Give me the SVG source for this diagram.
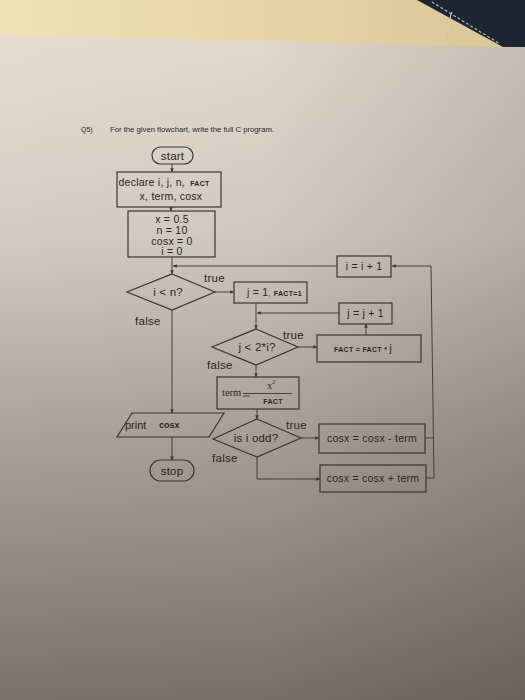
<svg xmlns="http://www.w3.org/2000/svg" width="525" height="700" viewBox="0 0 525 700">
<defs>
<linearGradient id="desk" x1="0" y1="0" x2="1" y2="0">
<stop offset="0" stop-color="#f1e2b2"/><stop offset="0.6" stop-color="#e6d2a2"/><stop offset="1" stop-color="#d9c496"/>
</linearGradient>
<linearGradient id="paper" x1="0" y1="0" x2="0" y2="1">
<stop offset="0" stop-color="#e6ddd1"/><stop offset="0.3" stop-color="#d4ccc3"/><stop offset="0.6" stop-color="#aaa198"/><stop offset="1" stop-color="#7b716b"/>
</linearGradient>
<linearGradient id="shade" x1="0" y1="0" x2="1" y2="0">
<stop offset="0" stop-color="#000" stop-opacity="0"/><stop offset="0.5" stop-color="#000" stop-opacity="0.02"/><stop offset="1" stop-color="#000" stop-opacity="0.14"/>
</linearGradient>
<marker id="ah" viewBox="0 0 8 8" refX="7.5" refY="4" markerWidth="4.5" markerHeight="4.5" orient="auto">
<path d="M0,0.5 L8,4 L0,7.5 Z" fill="#3c3834"/>
</marker>
<style>
.s{fill:none;stroke:#3a3532;stroke-width:1.2}
.c{fill:none;stroke:#3a3532;stroke-width:0.9}
.t{font-family:"Liberation Sans",Arial,sans-serif;fill:#2a2623}
.m{font-size:10.5px;letter-spacing:0.25px}
.d{font-size:11.5px;letter-spacing:0.2px}
.l{font-size:11.5px;letter-spacing:0.3px}
.k{font-size:7px;font-weight:bold;letter-spacing:0.3px}
</style>
</defs>
<!-- photo background -->
<rect x="0" y="0" width="525" height="700" fill="url(#desk)"/>
<polygon points="417,0 525,0 525,48 503,47" fill="#1e2530"/>
<line x1="432" y1="2" x2="500" y2="44" stroke="#b8b8b8" stroke-width="1.2" stroke-dasharray="3,2"/>
<path d="M452,12 C446,22 456,26 449,32 C444,38 448,44 451,46" fill="none" stroke="#cfc4ae" stroke-width="1.3"/>
<polygon points="0,34 483,47 525,47 525,700 0,700" fill="url(#paper)"/>
<polygon points="0,34 483,47 525,47 525,700 0,700" fill="url(#shade)"/>

<!-- title -->
<g id="title">
<text class="t" x="81" y="132" font-size="7">Q5)</text>
<text class="t" x="110" y="132" font-size="7" textLength="164" lengthAdjust="spacingAndGlyphs">For the given flowchart, write the full C program.</text>
</g>

<!-- connectors -->
<g id="connectors">
<line class="c" x1="172" y1="164" x2="172" y2="172" marker-end="url(#ah)"/>
<line class="c" x1="171" y1="207" x2="171" y2="211" marker-end="url(#ah)"/>
<line class="c" x1="172" y1="257" x2="172" y2="274" marker-end="url(#ah)"/>
<line class="c" x1="337" y1="266" x2="173" y2="266" marker-end="url(#ah)"/>
<line class="c" x1="215" y1="292" x2="234" y2="292" marker-end="url(#ah)"/>
<line class="c" x1="172" y1="310" x2="172" y2="413" marker-end="url(#ah)"/>
<line class="c" x1="256" y1="303" x2="256" y2="329" marker-end="url(#ah)"/>
<line class="c" x1="339" y1="313" x2="257" y2="313" marker-end="url(#ah)"/>
<line class="c" x1="298" y1="347" x2="317" y2="347" marker-end="url(#ah)"/>
<line class="c" x1="366" y1="335" x2="366" y2="324" marker-end="url(#ah)"/>
<line class="c" x1="256" y1="365" x2="256" y2="377" marker-end="url(#ah)"/>
<line class="c" x1="257" y1="409" x2="257" y2="419" marker-end="url(#ah)"/>
<line class="c" x1="301" y1="438" x2="319" y2="438" marker-end="url(#ah)"/>
<polyline class="c" points="257,457 257,479 320,479" marker-end="url(#ah)"/>
<line class="c" x1="425" y1="438" x2="433" y2="438"/>
<polyline class="c" points="426,478 434,478 431,266 392,266" marker-end="url(#ah)"/>
<line class="c" x1="172" y1="437" x2="172" y2="460" marker-end="url(#ah)"/>
<text class="t l" x="204" y="282">true</text>
<text class="t l" x="135" y="325">false</text>
<text class="t l" x="283" y="339">true</text>
<text class="t l" x="207" y="369">false</text>
<text class="t l" x="286" y="429">true</text>
<text class="t l" x="212" y="462">false</text>
</g>

<!-- nodes -->
<g id="start">
<rect class="s" x="152" y="147" width="41" height="17" rx="8.5"/>
<text class="t d" x="172.5" y="159.5" text-anchor="middle">start</text>
</g>
<g id="declare">
<rect class="s" x="117" y="172" width="104" height="35"/>
<text class="t m" x="118.5" y="186" letter-spacing="0">declare i, j, n, <tspan class="k" dx="2">FACT</tspan></text>
<text class="t m" x="171" y="200" text-anchor="middle">x, term, cosx</text>
</g>
<g id="init">
<rect class="s" x="128" y="211" width="87" height="46"/>
<text class="t m" x="172" y="223" text-anchor="middle">x = 0.5</text>
<text class="t m" x="172" y="234" text-anchor="middle">n = 10</text>
<text class="t m" x="172" y="244.5" text-anchor="middle">cosx = 0</text>
<text class="t m" x="172" y="255" text-anchor="middle">i = 0</text>
</g>
<g id="cond_i">
<polygon class="s" points="172,274 215,292 172,310 127,292"/>
<text class="t d" x="168" y="296" text-anchor="middle">i &lt; n?</text>
</g>
<g id="init_j">
<rect class="s" x="234" y="282" width="73" height="21"/>
<text class="t m" x="247" y="296">j = 1<tspan font-size="7">,</tspan> <tspan class="k">FACT=1</tspan></text>
</g>
<g id="inc_i">
<rect class="s" x="337" y="256" width="54" height="21"/>
<text class="t m" x="364" y="270" text-anchor="middle">i = i + 1</text>
</g>
<g id="inc_j">
<rect class="s" x="339" y="303" width="53" height="21"/>
<text class="t m" x="365.5" y="317" text-anchor="middle">j = j + 1</text>
</g>
<g id="cond_j">
<polygon class="s" points="256,329 298,347 256,365 212,347"/>
<text class="t d" x="257" y="351" text-anchor="middle">j &lt; 2*i?</text>
</g>
<g id="fact">
<rect class="s" x="317" y="335" width="104" height="27"/>
<text class="t k" x="363" y="351.5" text-anchor="middle" font-size="8" letter-spacing="0.5">FACT = FACT *  <tspan font-size="10" font-weight="normal">j</tspan></text>
</g>
<g id="term">
<rect class="s" x="217" y="377" width="82" height="32"/>
<text font-family="'Liberation Serif',serif" font-size="10.5" fill="#2a2623" x="222" y="396">term</text>
<line x1="243" y1="393.5" x2="292" y2="393.5" stroke="#3a3532" stroke-width="0.9"/>
<line x1="243" y1="396" x2="250" y2="396" stroke="#3a3532" stroke-width="0.9"/>
<text font-family="'Liberation Serif',serif" font-size="10.5" fill="#2a2623" x="267" y="389">x<tspan font-size="6" dy="-5">2</tspan></text>
<text class="t k" x="273" y="404" text-anchor="middle" font-size="6.5">FACT</text>
</g>
<g id="cond_odd">
<polygon class="s" points="257,419 301,438 257,457 213,439"/>
<text class="t d" x="256" y="442" text-anchor="middle">is i odd?</text>
</g>
<g id="sub">
<rect class="s" x="319" y="424" width="106" height="29"/>
<text class="t m" x="372" y="442" text-anchor="middle" letter-spacing="0">cosx = cosx - term</text>
</g>
<g id="add">
<rect class="s" x="320" y="465" width="106" height="27"/>
<text class="t m" x="373" y="482" text-anchor="middle" letter-spacing="0">cosx = cosx + term</text>
</g>
<g id="print">
<polygon class="s" points="132,413 224,413 209,437 117,437"/>
<text class="t" x="125" y="429" font-size="11">print</text>
<text class="t" x="159" y="428" font-size="9" font-weight="bold">cosx</text>
</g>
<g id="stop">
<rect class="s" x="150" y="460" width="44" height="21" rx="10.5"/>
<text class="t d" x="172" y="475" text-anchor="middle">stop</text>
</g>
</svg>
